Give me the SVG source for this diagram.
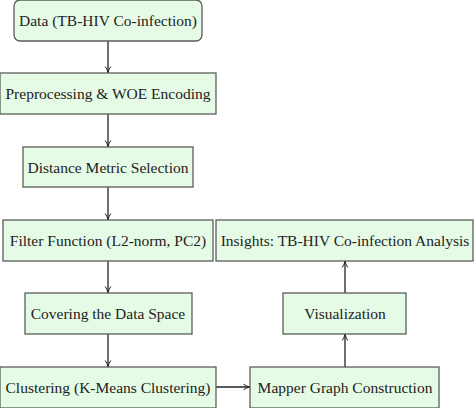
<svg xmlns="http://www.w3.org/2000/svg" width="474" height="408" viewBox="0 0 474 408">
<defs>
<style>
.box{fill:#e6fbe6;stroke:#5a5f5a;stroke-width:1.3}
.lbl{font-family:"Liberation Serif","DejaVu Serif",serif;font-size:15.5px;fill:#222;text-anchor:middle;dominant-baseline:central}
.edge{stroke:#222;stroke-width:1.3;fill:none}
</style>
<marker id="arr" viewBox="0 0 8 8" refX="7.5" refY="4" markerWidth="8" markerHeight="8" markerUnits="userSpaceOnUse" orient="auto">
<path d="M1,1.2 Q4,3.4 7.5,4 Q4,4.6 1,6.8" fill="none" stroke="#222" stroke-width="1"/>
</marker>
</defs>
<rect width="474" height="408" fill="#fff"/>
<g id="connectors">
<line class="edge" x1="108" y1="41" x2="108" y2="73" marker-end="url(#arr)"/>
<line class="edge" x1="108" y1="114" x2="108" y2="147" marker-end="url(#arr)"/>
<line class="edge" x1="108" y1="187" x2="108" y2="220" marker-end="url(#arr)"/>
<line class="edge" x1="108" y1="261" x2="108" y2="293" marker-end="url(#arr)"/>
<line class="edge" x1="108" y1="334" x2="108" y2="367" marker-end="url(#arr)"/>
<line class="edge" x1="216" y1="387" x2="250" y2="387" marker-end="url(#arr)"/>
<line class="edge" x1="345" y1="367" x2="345" y2="334" marker-end="url(#arr)"/>
<line class="edge" x1="345" y1="293" x2="345" y2="261" marker-end="url(#arr)"/>
</g>
<g id="n-data"><rect class="box" x="14" y="0" width="188" height="41" rx="6"/><text class="lbl" x="108" y="20">Data (TB-HIV Co-infection)</text></g>
<g id="n-pre"><rect class="box" x="0" y="73" width="216" height="41"/><text class="lbl" x="108" y="93">Preprocessing &amp; WOE Encoding</text></g>
<g id="n-dist"><rect class="box" x="23" y="147" width="170" height="40"/><text class="lbl" x="108" y="167">Distance Metric Selection</text></g>
<g id="n-filter"><rect class="box" x="3" y="220" width="210" height="41"/><text class="lbl" x="108" y="240">Filter Function (L2-norm, PC2)</text></g>
<g id="n-cover"><rect class="box" x="25" y="293" width="167" height="41"/><text class="lbl" x="108" y="313">Covering the Data Space</text></g>
<g id="n-cluster"><rect class="box" x="0" y="367" width="216" height="41"/><text class="lbl" x="108" y="387">Clustering (K-Means Clustering)</text></g>
<g id="n-mapper"><rect class="box" x="250" y="367" width="189" height="41"/><text class="lbl" x="345" y="387">Mapper Graph Construction</text></g>
<g id="n-vis"><rect class="box" x="283" y="293" width="123" height="41"/><text class="lbl" x="345" y="313">Visualization</text></g>
<g id="n-ins"><rect class="box" x="216" y="220" width="257" height="41"/><text class="lbl" x="345" y="240">Insights: TB-HIV Co-infection Analysis</text></g>
</svg>
